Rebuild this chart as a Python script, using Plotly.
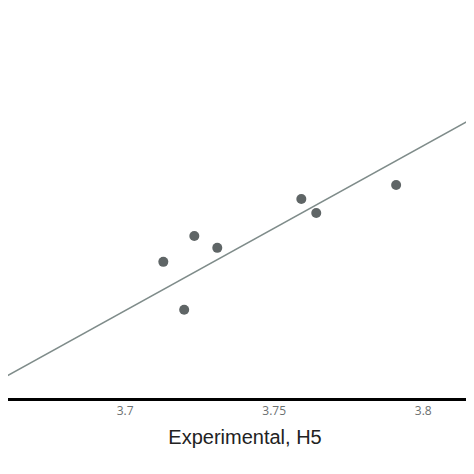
import plotly.graph_objects as go

exp_x = [3.7128, 3.7198, 3.7232, 3.7309, 3.7591, 3.7641, 3.7909]
pred_y = [3.7321, 3.7160, 3.7408, 3.7368, 3.7532, 3.7485, 3.7579]
fit_x = [3.658, 3.82]
fit_y = [3.6925, 3.7821]
tick_vals = [3.7, 3.75, 3.8]
tick_text = ["3.7", "3.75", "3.8"]

fig = go.Figure()
fig.add_trace(go.Scatter(x=fit_x, y=fit_y, mode="lines",
                         line=dict(color="#7f8c8a", width=1.5), hoverinfo="skip"))
fig.add_trace(go.Scatter(x=exp_x, y=pred_y, mode="markers",
                         marker=dict(color="#5f6566", size=10)))
fig.update_layout(
    width=474, height=474, showlegend=False,
    plot_bgcolor="white", paper_bgcolor="white",
    margin=dict(l=0, r=0, t=0, b=84),
    xaxis=dict(range=[3.6607, 3.8197], tickvals=tick_vals, ticktext=tick_text,
               showgrid=False, zeroline=False, showline=True, linecolor="black",
               linewidth=3, ticks="", tickfont=dict(family="Open Sans", size=12, color="#6b7070"),
               title=dict(text="Experimental, H5", standoff=12,
                          font=dict(family="Liberation Sans", size=20, color="#222"))),
    yaxis=dict(range=[3.6864, 3.8173], visible=False, showgrid=False),
)
fig.write_html("out.html")
